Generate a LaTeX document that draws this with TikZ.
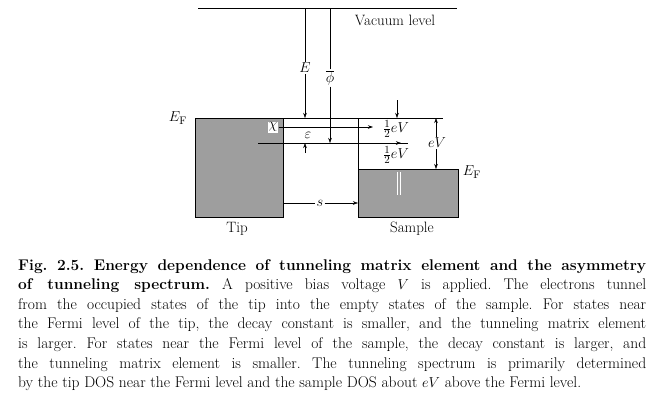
\documentclass[tikz,border=0pt]{standalone}
\usetikzlibrary{arrows.meta}
\begin{document}
\begin{tikzpicture}[x=1pt,y=-1pt,
 arr/.style={-{Stealth[length=5pt,width=3.5pt]},thin},
 lbl/.style={inner sep=1pt,font=\fontsize{15}{17}\selectfont}]
\useasboundingbox (0,0) rectangle (661,400);
\definecolor{box}{gray}{0.62}
\node[lbl] (vac) at (395,20) {Vacuum level};
\draw[line width=1pt] (198,8) coordinate (v1) -- (457,8) coordinate (v2);
\draw[fill=box,line width=1pt] (195,118) rectangle (283,217);
\draw[fill=box,line width=1pt] (358,169) rectangle (458,217);
\draw[line width=1pt] (358,118) -- (358,169);
\draw[thin] (283,118) -- (443,118);
\draw[white,line width=0.8pt] (397,172) -- (397,195) (400,172) -- (400,195);
\node[lbl] (ef1) at (178,118) {$E_{\mathrm F}$};
\node[lbl] (ef2) at (472,172) {$E_{\mathrm F}$};
\node[lbl,fill=white] (chi) at (273,127) {$\chi$};
\draw[arr,semithick] (chi.east) -- (373,127) coordinate (c1);
\draw[thin] (258,143) coordinate (e0) -- (408,143);
\draw[arr] (394,143) -- (401,143);
% E
\node[lbl,fill=white] (E) at (305,68) {$E$};
\draw[arr] (E.south) -- (305,118);
\draw (E.north) -- (305,8);
\node[lbl] (eps) at (308,135) {$\varepsilon$};
\draw[arr] (305,153) -- (305,143);
% phi
\node[lbl,fill=white] (phi) at (330,78) {$\overline{\phi}$};
\draw (phi.north) -- (330,8);
\draw[arr] (phi.south) -- (330,143);
% right
\draw[arr] (397,100) -- (397,118);
\node[lbl] (h1) at (396,129) {$\frac12 eV$};
\node[lbl] (h2) at (396,155) {$\frac12 eV$};
\draw[{Stealth[length=5pt,width=3.5pt]}-{Stealth[length=5pt,width=3.5pt]},thin] (436,118) -- (436,169);
\node[lbl,fill=white] (ev) at (437,143) {$eV$};
% s
\node[lbl] (s) at (320,203) {$s$};
\draw (283,203) -- (s.west);
\draw[arr] (s.east) -- (358,203);
\node[lbl] (tipl) at (237,229) {Tip};
\node[lbl] (saml) at (412,229) {Sample};
\node[anchor=north west,text width=628pt,align=justify,inner sep=0pt,font=\fontsize{15.5}{19.6}\selectfont] (cap) at (18,259)
{\frenchspacing\textbf{Fig. 2.5. Energy dependence of tunneling matrix element and the asymmetry\linebreak of tunneling spectrum.} A positive bias voltage $V$ is applied. The electrons tunnel\linebreak from the occupied states of the tip into the empty states of the sample. For states near\linebreak the Fermi level of the tip, the decay constant is smaller, and the tunneling matrix element\linebreak is larger. For states near the Fermi level of the sample, the decay constant is larger, and\linebreak the tunneling matrix element is smaller. The tunneling spectrum is primarily determined\linebreak by the tip DOS near the Fermi level and the sample DOS about $eV$ above the Fermi level.};
\end{tikzpicture}
\end{document}
